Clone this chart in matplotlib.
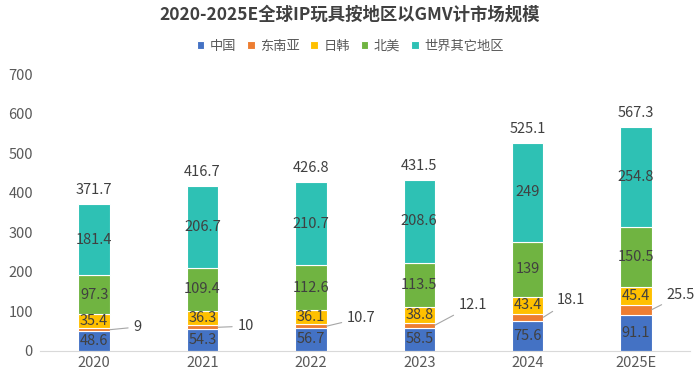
import matplotlib
matplotlib.use('Agg')
import matplotlib.pyplot as plt
import numpy as np

plt.rcParams['font.family'] = ['Noto Sans CJK SC', 'DejaVu Sans']

years = ['2020', '2021', '2022', '2023', '2024', '2025E']
series = ['中国', '东南亚', '日韩', '北美', '世界其它地区']
china = [48.6, 54.3, 56.7, 58.5, 75.6, 91.1]
sea = [9, 10, 10.7, 12.1, 18.1, 25.5]
jpkr = [35.4, 36.3, 36.1, 38.8, 43.4, 45.4]
na = [97.3, 109.4, 112.6, 113.5, 139, 150.5]
rest = [181.4, 206.7, 210.7, 208.6, 249, 254.8]
totals = [371.7, 416.7, 426.8, 431.5, 525.1, 567.3]

colors = ['#4472C4', '#ED7D31', '#FFC000', '#70B441', '#2EC1B4']

# where the callout labels for the small 东南亚 segment sit (data units)
sea_label_y = [60, 62, 83, 116, 128, 141]
sea_label_dx = [0.22, 0.18, 0.19, 0.22, 0.12, 0.14]

fig = plt.figure(figsize=(7, 3.86), dpi=100)
ax = fig.add_axes([0.057, 0.0915, 0.929, 0.7165])

x = np.arange(len(years))
w = 0.29
bottom = np.zeros(len(years))
data = [china, sea, jpkr, na, rest]
for name, vals, c in zip(series, data, colors):
    vals = np.array(vals, dtype=float)
    ax.bar(x, vals, w, bottom=bottom, color=c, edgecolor='white',
           linewidth=0.8, label=name)
    if name != '东南亚':
        for xi, b, v in zip(x, bottom, vals):
            ax.text(xi, b + v / 2, f'{v:g}', ha='center', va='center',
                    fontsize=10.5, color='#404040')
    bottom += vals

# callouts for 东南亚
for xi, c0, v, ly, dx in zip(x, china, sea, sea_label_y, sea_label_dx):
    ax.annotate(f'{v:g}', xy=(xi + w / 2, c0 + v / 2),
                xytext=(xi + w / 2 + dx, ly), ha='left', va='center',
                fontsize=10.5, color='#404040',
                arrowprops=dict(arrowstyle='-', color='#A6A6A6', lw=0.8,
                                shrinkA=2, shrinkB=0))

for xi, t in zip(x, totals):
    ax.annotate(f'{t:g}', xy=(xi, t), xytext=(0, 5), textcoords='offset points',
                ha='center', va='bottom', fontsize=10.5, color='#404040')

ax.set_xlim(-0.5, len(years) - 0.5)
ax.set_ylim(0, 700)
ax.set_yticks(range(0, 701, 100))
ax.set_xticks(x)
ax.set_xticklabels(years)
ax.tick_params(axis='both', length=0, labelsize=10.5, colors='#595959')
ax.tick_params(axis='y', pad=5)
for s in ['top', 'right', 'left']:
    ax.spines[s].set_visible(False)
ax.spines['bottom'].set_color('#D9D9D9')

fig.suptitle('2020-2025E全球IP玩具按地区以GMV计市场规模', y=0.985,
             fontsize=12.5, fontweight='bold', color='#404040')
fig.legend(loc='center', bbox_to_anchor=(0.5, 0.88), ncol=5, frameon=False,
           fontsize=9.5, labelcolor='#595959', handlelength=0.6,
           handleheight=0.6, handletextpad=0.4, columnspacing=0.8)

fig.savefig('out.png', dpi=100)
